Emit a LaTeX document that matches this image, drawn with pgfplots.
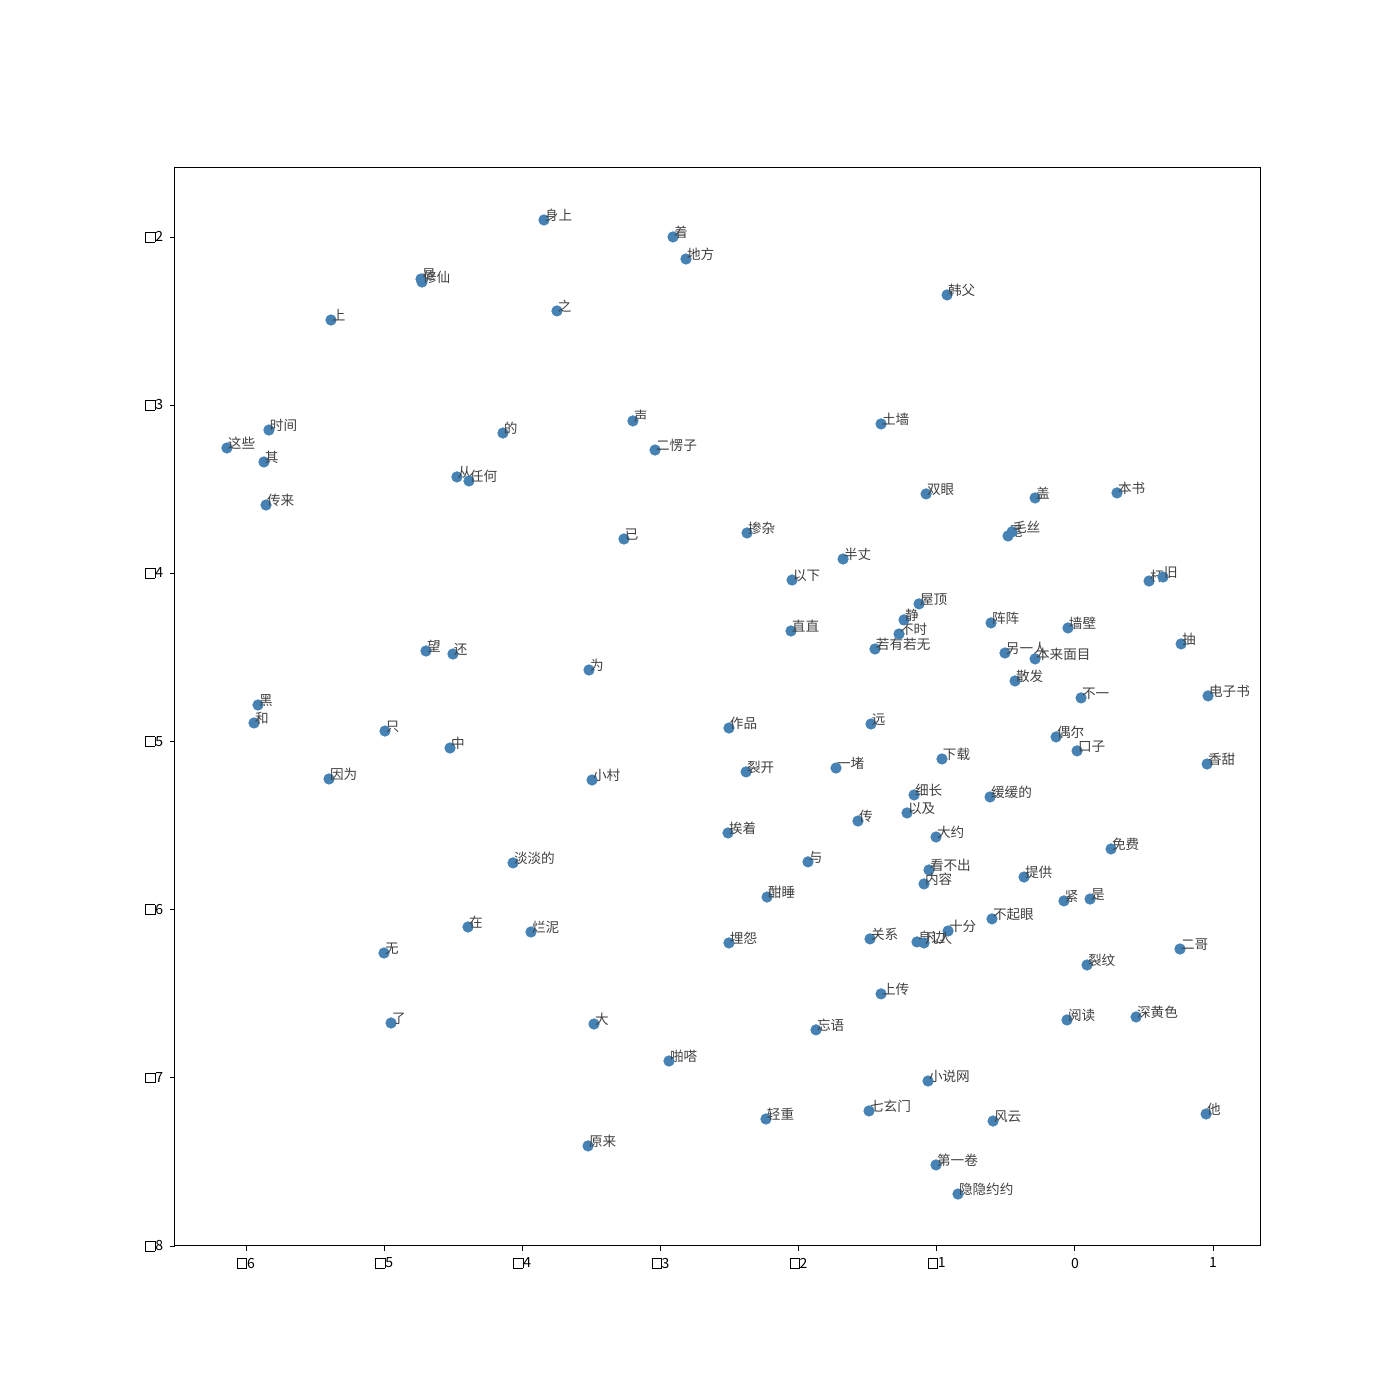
\documentclass[border=0pt]{standalone}
\usepackage{fontspec}
\setmainfont{Noto Sans CJK SC}
\usepackage{pgfplots}
\usepackage{pgfplotstable}
\pgfplotsset{compat=1.18}
\definecolor{steel}{HTML}{4682B4}
% missing-glyph box that stands in for the minus sign
\newcommand{\tofu}{{\setlength{\fboxsep}{0pt}\setlength{\fboxrule}{0.35pt}\fbox{\rule{0pt}{4.6pt}\hspace{4.3pt}}}}

\pgfplotstableread{
x y label
-3.843 -1.899 身上
-2.909 -2.000 着
-2.815 -2.131 地方
-4.733 -2.250 是
-4.726 -2.268 修仙
-5.385 -2.494 上
-3.749 -2.440 之
-0.925 -2.345 韩父
-5.834 -3.148 时间
-6.138 -3.255 这些
-5.870 -3.338 其
-5.855 -3.594 传来
-4.140 -3.166 的
-4.473 -3.427 从
-4.386 -3.451 任何
-3.199 -3.094 声
-3.039 -3.267 二愣子
-1.403 -3.112 土墙
-2.373 -3.760 掺杂
-3.264 -3.796 已
-1.077 -3.528 双眼
-0.288 -3.552 盖
0.305 -3.522 本书
-0.484 -3.778 尾
-0.455 -3.754 毛丝
-4.697 -4.462 望
-4.502 -4.480 还
-5.913 -4.783 黑
-5.942 -4.890 和
-4.994 -4.938 只
-4.523 -5.039 中
-5.399 -5.223 因为
-4.067 -5.722 淡淡的
-1.678 -3.915 半丈
-2.047 -4.040 以下
-2.055 -4.343 直直
-1.447 -4.450 若有若无
-1.273 -4.361 不时
-1.237 -4.277 静
-1.128 -4.182 屋顶
-3.517 -4.575 为
-2.504 -4.920 作品
-1.476 -4.896 远
-2.380 -5.181 裂开
-1.729 -5.158 一堵
-3.495 -5.229 小村
-1.570 -5.473 传
-2.511 -5.544 挨着
-1.932 -5.716 与
-2.228 -5.925 酣睡
0.537 -4.046 杆
0.638 -4.022 旧
-0.607 -4.295 阵阵
-0.050 -4.325 墙壁
0.769 -4.420 抽
-0.506 -4.474 另一人
-0.288 -4.509 本来面目
-0.433 -4.640 散发
0.045 -4.741 不一
0.964 -4.729 电子书
-0.136 -4.973 偶尔
0.016 -5.056 口子
-0.962 -5.104 下载
0.957 -5.134 香甜
-1.164 -5.318 细长
-0.614 -5.330 缓缓的
-1.215 -5.425 以及
-1.005 -5.568 大约
0.262 -5.639 免费
-1.056 -5.764 看不出
-1.092 -5.847 内容
-0.368 -5.806 提供
-0.079 -5.948 紧
0.110 -5.937 是
-4.393 -6.103 在
-3.937 -6.133 烂泥
-5.001 -6.258 无
-4.950 -6.674 了
-2.504 -6.198 埋怨
-1.483 -6.174 关系
-1.403 -6.501 上传
-3.481 -6.680 大
-1.874 -6.715 忘语
-2.938 -6.900 啪嗒
-2.236 -7.245 轻重
-1.490 -7.197 七玄门
-3.524 -7.405 原来
-0.600 -6.055 不起眼
-0.918 -6.127 十分
-1.143 -6.192 身边
-1.092 -6.198 凡人
0.761 -6.234 二哥
0.088 -6.329 裂纹
-0.057 -6.656 阅读
0.443 -6.638 深黄色
-1.063 -7.019 小说网
-0.592 -7.257 风云
0.950 -7.215 他
-1.005 -7.518 第一卷
-0.846 -7.691 隐隐约约
}\words

\begin{document}
\begin{tikzpicture}
\begin{axis}[
    scale only axis,
    width=542.5pt,
    height=539pt,
    xmin=-6.514, xmax=1.340,
    ymin=-8, ymax=-1.590,
    axis line style={line width=0.5pt},
    tick align=outside,
    xtick pos=bottom,
    ytick pos=left,
    major tick length=2.45pt,
    tick style={line width=0.4pt, black},
    xtick={-6,-5,-4,-3,-2,-1,0,1},
    xticklabels={\tofu6,\tofu5,\tofu4,\tofu3,\tofu2,\tofu1,0,1},
    ytick={-8,-7,-6,-5,-4,-3,-2},
    yticklabels={\tofu8,\tofu7,\tofu6,\tofu5,\tofu4,\tofu3,\tofu2},
    ticklabel style={font=\fontsize{7pt}{8pt}\selectfont},
    clip=false,
]
\addplot[
    only marks,
    mark=*,
    mark size=2.6pt,
    mark options={draw=steel, fill=steel},
    point meta=explicit symbolic,
    nodes near coords,
    nodes near coords style={anchor=base west, inner sep=0pt, xshift=0.3pt,
        yshift=-0.3pt, text=black!75, font=\fontsize{6.8pt}{8pt}\selectfont},
] table[x=x, y=y, meta=label] {\words};
\end{axis}
\path[use as bounding box] (current axis.south west) ++(-87.5pt,-77pt)
    rectangle ([shift={(70pt,84pt)}]current axis.north east);
\end{tikzpicture}
\end{document}
